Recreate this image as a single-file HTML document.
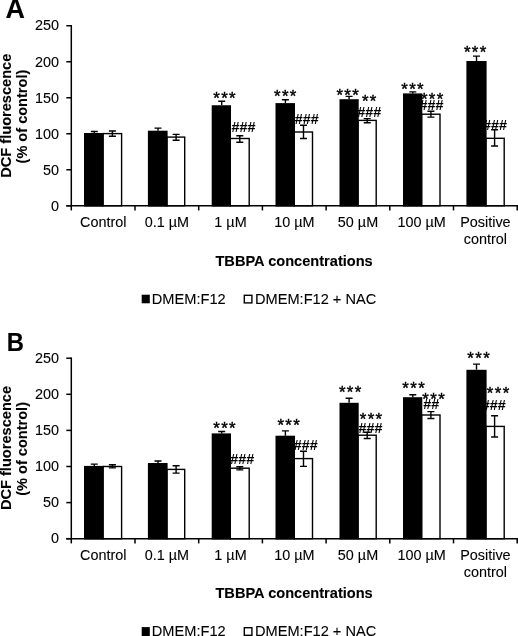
<!DOCTYPE html>
<html><head><meta charset="utf-8"><title>DCF fluorescence</title>
<style>
html,body{margin:0;padding:0;background:#fff;overflow:hidden;}
svg{display:block;font-family:"Liberation Sans",sans-serif;fill:#000;}
.ax{stroke:#000;stroke-width:1.5;fill:none;}
.eb{stroke:#000;stroke-width:1.4;fill:none;}
text{stroke:#000;stroke-width:0.1;}
.hs{font-weight:bold;stroke:none;}
.as{stroke-width:0.4;}
</style></head><body>
<svg width="518" height="636" viewBox="0 0 518 636">
<rect x="0" y="0" width="518" height="636" fill="#fff"/>
<text x="5.45" y="17.9" font-size="26.9" font-weight="bold">A</text>
<text transform="translate(10.75,115.7) rotate(-90)" text-anchor="middle" font-size="14.6" font-weight="bold">DCF fluorescence</text>
<text transform="translate(26.55,116.6) rotate(-90)" text-anchor="middle" font-size="14.55" font-weight="bold">(% of control)</text>
<text x="59" y="210.7" text-anchor="end" font-size="14.4">0</text>
<line x1="66.3" x2="71.3" y1="205.75" y2="205.75" class="ax"/>
<text x="59" y="174.6" text-anchor="end" font-size="14.4">50</text>
<line x1="66.3" x2="71.3" y1="169.75" y2="169.75" class="ax"/>
<text x="59" y="138.6" text-anchor="end" font-size="14.4">100</text>
<line x1="66.3" x2="71.3" y1="133.75" y2="133.75" class="ax"/>
<text x="59" y="102.5" text-anchor="end" font-size="14.4">150</text>
<line x1="66.3" x2="71.3" y1="97.75" y2="97.75" class="ax"/>
<text x="59" y="66.5" text-anchor="end" font-size="14.4">200</text>
<line x1="66.3" x2="71.3" y1="61.75" y2="61.75" class="ax"/>
<text x="59" y="30.4" text-anchor="end" font-size="14.4">250</text>
<line x1="66.3" x2="71.3" y1="25.75" y2="25.75" class="ax"/>
<rect x="103.00" y="133.60" width="18.60" height="72.15" fill="#fff" stroke="#000" stroke-width="1.4"/>
<rect x="84.00" y="133.00" width="19.70" height="73.55" fill="#000"/>
<path d="M94.30 133.00V131.50M90.80 131.50H97.80" class="eb"/>
<path d="M112.40 131.00V136.30M108.90 131.00H115.90M108.90 136.30H115.90" class="eb"/>
<rect x="166.90" y="137.10" width="17.80" height="68.65" fill="#fff" stroke="#000" stroke-width="1.4"/>
<rect x="147.90" y="130.70" width="19.70" height="75.85" fill="#000"/>
<path d="M158.00 130.70V128.10M154.50 128.10H161.50" class="eb"/>
<path d="M176.10 134.40V140.20M172.60 134.40H179.60M172.60 140.20H179.60" class="eb"/>
<rect x="230.30" y="138.50" width="18.90" height="67.25" fill="#fff" stroke="#000" stroke-width="1.4"/>
<rect x="211.70" y="105.25" width="19.30" height="101.30" fill="#000"/>
<path d="M221.70 105.25V101.20M218.20 101.20H225.20" class="eb"/>
<path d="M239.80 135.80V142.20M236.30 135.80H243.30M236.30 142.20H243.30" class="eb"/>
<rect x="294.30" y="132.00" width="18.20" height="73.75" fill="#fff" stroke="#000" stroke-width="1.4"/>
<rect x="275.50" y="103.10" width="19.50" height="103.45" fill="#000"/>
<path d="M285.40 103.10V99.70M281.90 99.70H288.90" class="eb"/>
<path d="M303.50 125.20V138.50M300.00 125.20H307.00M300.00 138.50H307.00" class="eb"/>
<rect x="358.00" y="120.40" width="18.20" height="85.35" fill="#fff" stroke="#000" stroke-width="1.4"/>
<rect x="339.50" y="99.20" width="19.20" height="107.35" fill="#000"/>
<path d="M349.10 99.20V96.40M345.60 96.40H352.60" class="eb"/>
<path d="M367.20 118.60V122.70M363.70 118.60H370.70M363.70 122.70H370.70" class="eb"/>
<rect x="421.60" y="114.20" width="18.40" height="91.55" fill="#fff" stroke="#000" stroke-width="1.4"/>
<rect x="403.00" y="93.40" width="19.30" height="113.15" fill="#000"/>
<path d="M412.80 93.40V91.90M409.30 91.90H416.30" class="eb"/>
<path d="M430.90 111.30V117.10M427.40 111.30H434.40M427.40 117.10H434.40" class="eb"/>
<rect x="485.90" y="138.30" width="18.30" height="67.45" fill="#fff" stroke="#000" stroke-width="1.4"/>
<rect x="466.40" y="61.00" width="20.20" height="145.55" fill="#000"/>
<path d="M476.50 61.00V56.10M473.00 56.10H480.00" class="eb"/>
<path d="M494.60 129.80V146.00M491.10 129.80H498.10M491.10 146.00H498.10" class="eb"/>
<line x1="71.3" x2="71.3" y1="25.00" y2="210.45" class="ax"/>
<line x1="66.3" x2="518" y1="205.75" y2="205.75" class="ax"/>
<line x1="135.00" x2="135.00" y1="205.75" y2="210.45" class="ax"/>
<line x1="198.70" x2="198.70" y1="205.75" y2="210.45" class="ax"/>
<line x1="262.40" x2="262.40" y1="205.75" y2="210.45" class="ax"/>
<line x1="326.10" x2="326.10" y1="205.75" y2="210.45" class="ax"/>
<line x1="389.80" x2="389.80" y1="205.75" y2="210.45" class="ax"/>
<line x1="453.50" x2="453.50" y1="205.75" y2="210.45" class="ax"/>
<line x1="517.20" x2="517.20" y1="205.75" y2="210.45" class="ax"/>
<text transform="translate(235.30,98.10) scale(1,1.03)" x="-22.07 -14.17 -6.27" y="5.66" font-size="16.8" class="as">***</text>
<text transform="translate(255.4,132.2) scale(1,1.07)" text-anchor="end" font-size="14.4" class="hs">###</text>
<text transform="translate(296.10,96.00) scale(1,1.03)" x="-22.07 -14.17 -6.27" y="5.66" font-size="16.8" class="as">***</text>
<text transform="translate(318.7,123.8) scale(1,1.07)" text-anchor="end" font-size="14.4" class="hs">###</text>
<text transform="translate(358.50,95.00) scale(1,1.03)" x="-22.07 -14.17 -6.27" y="5.66" font-size="16.8" class="as">***</text>
<text transform="translate(376.10,101.10) scale(1,1.03)" x="-14.17 -6.27" y="5.66" font-size="16.8" class="as">**</text>
<text transform="translate(381.2,116.8) scale(1,1.07)" text-anchor="end" font-size="14.4" class="hs">###</text>
<text transform="translate(423.30,89.40) scale(1,1.03)" x="-22.07 -14.17 -6.27" y="5.66" font-size="16.8" class="as">***</text>
<text transform="translate(443.00,99.00) scale(1,1.03)" x="-22.07 -14.17 -6.27" y="5.66" font-size="16.8" class="as">***</text>
<text transform="translate(443.5,109.5) scale(1,1.07)" text-anchor="end" font-size="14.4" class="hs">###</text>
<text transform="translate(486.00,52.00) scale(1,1.03)" x="-22.07 -14.17 -6.27" y="5.66" font-size="16.8" class="as">***</text>
<text transform="translate(507.0,129.7) scale(1,1.07)" text-anchor="end" font-size="14.4" class="hs">###</text>
<text x="103.2" y="227.3" text-anchor="middle" font-size="14.4">Control</text>
<text x="166.8" y="227.3" text-anchor="middle" font-size="14.4">0.1 µM</text>
<text x="230.5" y="227.3" text-anchor="middle" font-size="14.4">1 µM</text>
<text x="294.3" y="227.3" text-anchor="middle" font-size="14.4">10 µM</text>
<text x="358.0" y="227.3" text-anchor="middle" font-size="14.4">50 µM</text>
<text x="421.7" y="227.3" text-anchor="middle" font-size="14.4">100 µM</text>
<text x="485.4" y="227.3" text-anchor="middle" font-size="14.4">Positive</text>
<text x="485.4" y="243.9" text-anchor="middle" font-size="14.4">control</text>
<text x="294.1" y="265.9" text-anchor="middle" font-size="14.6" font-weight="bold">TBBPA concentrations</text>
<rect x="141.7" y="294.7" width="8.1" height="8.6" fill="#000"/>
<text x="151.8" y="303.9" font-size="14.62">DMEM:F12</text>
<rect x="244.3" y="295.3" width="7.6" height="7.6" fill="#fff" stroke="#000" stroke-width="1.4"/>
<text x="255.0" y="303.9" font-size="14.6">DMEM:F12 + NAC</text>
<text transform="translate(6.65,350.8) scale(1,1.1)" font-size="23.8" font-weight="bold">B</text>
<text transform="translate(10.75,448.0) rotate(-90)" text-anchor="middle" font-size="14.6" font-weight="bold">DCF fluorescence</text>
<text transform="translate(26.55,448.9) rotate(-90)" text-anchor="middle" font-size="14.55" font-weight="bold">(% of control)</text>
<text x="59" y="543.0" text-anchor="end" font-size="14.4">0</text>
<line x1="66.3" x2="71.3" y1="538.70" y2="538.70" class="ax"/>
<text x="59" y="506.9" text-anchor="end" font-size="14.4">50</text>
<line x1="66.3" x2="71.3" y1="502.60" y2="502.60" class="ax"/>
<text x="59" y="470.9" text-anchor="end" font-size="14.4">100</text>
<line x1="66.3" x2="71.3" y1="466.50" y2="466.50" class="ax"/>
<text x="59" y="434.8" text-anchor="end" font-size="14.4">150</text>
<line x1="66.3" x2="71.3" y1="430.40" y2="430.40" class="ax"/>
<text x="59" y="398.8" text-anchor="end" font-size="14.4">200</text>
<line x1="66.3" x2="71.3" y1="394.30" y2="394.30" class="ax"/>
<text x="59" y="362.7" text-anchor="end" font-size="14.4">250</text>
<line x1="66.3" x2="71.3" y1="358.20" y2="358.20" class="ax"/>
<rect x="103.00" y="466.50" width="18.60" height="72.20" fill="#fff" stroke="#000" stroke-width="1.4"/>
<rect x="84.00" y="465.90" width="19.70" height="73.60" fill="#000"/>
<path d="M94.30 465.90V464.10M90.80 464.10H97.80" class="eb"/>
<path d="M112.40 464.80V467.90M108.90 464.80H115.90M108.90 467.90H115.90" class="eb"/>
<rect x="166.90" y="469.40" width="17.80" height="69.30" fill="#fff" stroke="#000" stroke-width="1.4"/>
<rect x="147.90" y="463.00" width="19.70" height="76.50" fill="#000"/>
<path d="M158.00 463.00V461.00M154.50 461.00H161.50" class="eb"/>
<path d="M176.10 465.80V473.10M172.60 465.80H179.60M172.60 473.10H179.60" class="eb"/>
<rect x="230.30" y="468.20" width="18.90" height="70.50" fill="#fff" stroke="#000" stroke-width="1.4"/>
<rect x="211.70" y="433.40" width="19.30" height="106.10" fill="#000"/>
<path d="M221.70 433.40V431.50M218.20 431.50H225.20" class="eb"/>
<path d="M239.80 466.70V469.90M236.30 466.70H243.30M236.30 469.90H243.30" class="eb"/>
<rect x="294.30" y="458.60" width="18.20" height="80.10" fill="#fff" stroke="#000" stroke-width="1.4"/>
<rect x="275.50" y="435.70" width="19.50" height="103.80" fill="#000"/>
<path d="M285.40 435.70V430.90M281.90 430.90H288.90" class="eb"/>
<path d="M303.50 451.20V466.40M300.00 451.20H307.00M300.00 466.40H307.00" class="eb"/>
<rect x="358.00" y="435.20" width="18.20" height="103.50" fill="#fff" stroke="#000" stroke-width="1.4"/>
<rect x="339.50" y="402.80" width="19.20" height="136.70" fill="#000"/>
<path d="M349.10 402.80V398.20M345.60 398.20H352.60" class="eb"/>
<path d="M367.20 432.30V438.50M363.70 432.30H370.70M363.70 438.50H370.70" class="eb"/>
<rect x="421.60" y="415.00" width="18.40" height="123.70" fill="#fff" stroke="#000" stroke-width="1.4"/>
<rect x="403.00" y="397.20" width="19.30" height="142.30" fill="#000"/>
<path d="M412.80 397.20V394.80M409.30 394.80H416.30" class="eb"/>
<path d="M430.90 411.60V418.50M427.40 411.60H434.40M427.40 418.50H434.40" class="eb"/>
<rect x="485.90" y="426.40" width="18.30" height="112.30" fill="#fff" stroke="#000" stroke-width="1.4"/>
<rect x="466.40" y="369.80" width="20.20" height="169.70" fill="#000"/>
<path d="M476.50 369.80V364.10M473.00 364.10H480.00" class="eb"/>
<path d="M494.60 415.70V437.00M491.10 415.70H498.10M491.10 437.00H498.10" class="eb"/>
<line x1="71.3" x2="71.3" y1="357.45" y2="543.40" class="ax"/>
<line x1="66.3" x2="518" y1="538.70" y2="538.70" class="ax"/>
<line x1="135.00" x2="135.00" y1="538.70" y2="543.40" class="ax"/>
<line x1="198.70" x2="198.70" y1="538.70" y2="543.40" class="ax"/>
<line x1="262.40" x2="262.40" y1="538.70" y2="543.40" class="ax"/>
<line x1="326.10" x2="326.10" y1="538.70" y2="543.40" class="ax"/>
<line x1="389.80" x2="389.80" y1="538.70" y2="543.40" class="ax"/>
<line x1="453.50" x2="453.50" y1="538.70" y2="543.40" class="ax"/>
<line x1="517.20" x2="517.20" y1="538.70" y2="543.40" class="ax"/>
<text transform="translate(235.30,428.30) scale(1,1.03)" x="-22.07 -14.17 -6.27" y="5.66" font-size="16.8" class="as">***</text>
<text transform="translate(254.2,464.0) scale(1,1.07)" text-anchor="end" font-size="14.4" class="hs">###</text>
<text transform="translate(299.50,425.20) scale(1,1.03)" x="-22.07 -14.17 -6.27" y="5.66" font-size="16.8" class="as">***</text>
<text transform="translate(317.8,450.3) scale(1,1.07)" text-anchor="end" font-size="14.4" class="hs">###</text>
<text transform="translate(361.00,392.10) scale(1,1.03)" x="-22.07 -14.17 -6.27" y="5.66" font-size="16.8" class="as">***</text>
<text transform="translate(381.80,418.90) scale(1,1.03)" x="-22.07 -14.17 -6.27" y="5.66" font-size="16.8" class="as">***</text>
<text transform="translate(382.4,432.8) scale(1,1.07)" text-anchor="end" font-size="14.4" class="hs">###</text>
<text transform="translate(424.40,388.30) scale(1,1.03)" x="-22.07 -14.17 -6.27" y="5.66" font-size="16.8" class="as">***</text>
<text transform="translate(444.40,399.30) scale(1,1.03)" x="-22.07 -14.17 -6.27" y="5.66" font-size="16.8" class="as">***</text>
<text transform="translate(439.3,408.9) scale(1,1.07)" text-anchor="end" font-size="14.4" class="hs">##</text>
<text transform="translate(489.40,358.10) scale(1,1.03)" x="-22.07 -14.17 -6.27" y="5.66" font-size="16.8" class="as">***</text>
<text transform="translate(508.90,393.00) scale(1,1.03)" x="-22.07 -14.17 -6.27" y="5.66" font-size="16.8" class="as">***</text>
<text transform="translate(505.8,410.0) scale(1,1.07)" text-anchor="end" font-size="14.4" class="hs">###</text>
<text x="103.2" y="560.2" text-anchor="middle" font-size="14.4">Control</text>
<text x="166.8" y="560.2" text-anchor="middle" font-size="14.4">0.1 µM</text>
<text x="230.5" y="560.2" text-anchor="middle" font-size="14.4">1 µM</text>
<text x="294.3" y="560.2" text-anchor="middle" font-size="14.4">10 µM</text>
<text x="358.0" y="560.2" text-anchor="middle" font-size="14.4">50 µM</text>
<text x="421.7" y="560.2" text-anchor="middle" font-size="14.4">100 µM</text>
<text x="485.4" y="560.2" text-anchor="middle" font-size="14.4">Positive</text>
<text x="485.4" y="576.8" text-anchor="middle" font-size="14.4">control</text>
<text x="294.1" y="597.6" text-anchor="middle" font-size="14.6" font-weight="bold">TBBPA concentrations</text>
<rect x="141.7" y="627.1" width="8.1" height="9.6" fill="#000"/>
<text x="151.8" y="636.3" font-size="14.62">DMEM:F12</text>
<rect x="244.3" y="627.7" width="7.6" height="7.6" fill="#fff" stroke="#000" stroke-width="1.4"/>
<text x="255.0" y="636.3" font-size="14.6">DMEM:F12 + NAC</text>
</svg>
</body></html>
